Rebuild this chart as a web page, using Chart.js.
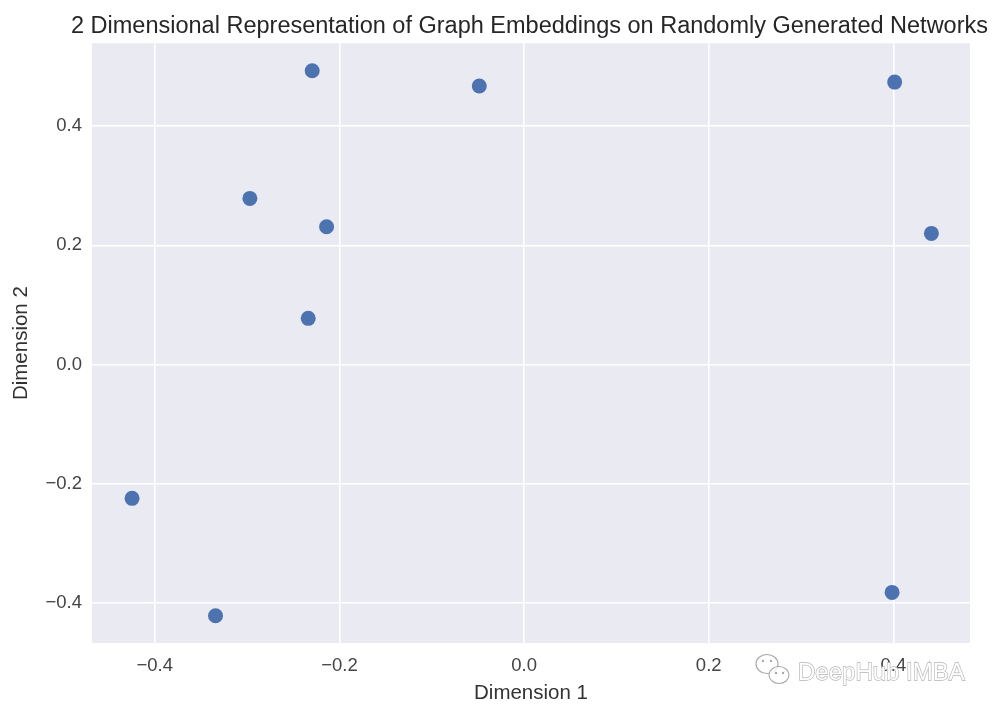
<!DOCTYPE html>
<html>
<head>
<meta charset="utf-8">
<script src="https://cdn.jsdelivr.net/npm/chart.js@4.4.0/dist/chart.umd.min.js"></script>
<style>
  html, body { margin: 0; padding: 0; background: #ffffff; }
  #wrap { width: 1000px; height: 718px; }
</style>
</head>
<body>
<div id="wrap"><canvas id="c" width="1000" height="718"></canvas></div>
<script>
const dim1 = [-0.2295, -0.0485, 0.4014, -0.2970, -0.2139, 0.4412, -0.2338, -0.4246, -0.3342, 0.3986];
const dim2 = [0.4927, 0.4671, 0.4738, 0.2787, 0.2311, 0.2200, 0.0775, -0.2244, -0.4213, -0.3821];
const xTicks = [-0.4, -0.2, 0.0, 0.2, 0.4];
const yTicks = [-0.4, -0.2, 0.0, 0.2, 0.4];
const titleText = '2 Dimensional Representation of Graph Embeddings on Randomly Generated Networks';
const xTitle = 'Dimension 1';
const yTitle = 'Dimension 2';
const watermark = 'DeepHub IMBA';

const points = dim1.map((x, i) => ({ x: x, y: dim2[i] }));
const fmt = v => (v < 0 ? '\u2212' : '') + Math.abs(v).toFixed(1);
const FONT = '"Liberation Sans", Arial, sans-serif';

const bgPlugin = {
  id: 'bg',
  beforeDraw(chart) {
    const a = chart.chartArea, ctx = chart.ctx;
    ctx.save();
    ctx.fillStyle = '#EAEAF2';
    ctx.fillRect(a.left, a.top, a.right - a.left, a.bottom - a.top);
    ctx.restore();
  }
};

const wmPlugin = {
  id: 'wm',
  afterDraw(chart) {
    const ctx = chart.ctx;
    ctx.save();
    ctx.strokeStyle = '#a8a8a8';
    ctx.fillStyle = 'rgba(255,255,255,0.85)';
    ctx.lineWidth = 1.1;
    ctx.beginPath(); ctx.ellipse(767, 664, 11, 9.5, 0, 0, Math.PI * 2); ctx.fill(); ctx.stroke();
    ctx.beginPath(); ctx.ellipse(779, 675, 10, 8.5, 0, 0, Math.PI * 2); ctx.fill(); ctx.stroke();
    ctx.fillStyle = '#a8a8a8';
    [[763,661],[771,661],[776,673],[783,673]].forEach(p => { ctx.beginPath(); ctx.arc(p[0], p[1], 1.2, 0, Math.PI*2); ctx.fill(); });
    ctx.font = '24px ' + FONT;
    ctx.textBaseline = 'middle';
    ctx.textAlign = 'left';
    ctx.lineWidth = 1.3;
    ctx.strokeStyle = '#b4b4b4';
    ctx.strokeText(watermark, 798, 673);
    ctx.fillStyle = '#ffffff';
    ctx.fillText(watermark, 798, 673);
    ctx.restore();
  }
};

new Chart(document.getElementById('c'), {
  type: 'scatter',
  data: {
    datasets: [{
      data: points,
      backgroundColor: '#4C72B0',
      borderColor: '#4C72B0',
      borderWidth: 0,
      pointRadius: 7.5,
      pointHoverRadius: 7.5
    }]
  },
  options: {
    responsive: false,
    animation: false,
    devicePixelRatio: 1,
    layout: { padding: { left: 0, right: 12, top: 0, bottom: 0 } },
    plugins: {
      legend: { display: false },
      tooltip: { enabled: false },
      title: {
        display: true,
        text: titleText,
        fullSize: true,
        align: 'end',
        color: '#262626',
        font: { family: FONT, size: 23.5, weight: 'normal', lineHeight: 1.2 },
        padding: { top: 12, bottom: 3 }
      }
    },
    scales: {
      x: {
        type: 'linear',
        min: -0.468,
        max: 0.483,
        afterFit(s) { s.height = 75; },
        afterBuildTicks(s) { s.ticks = xTicks.map(v => ({ value: v })); },
        border: { display: false },
        grid: { color: '#ffffff', lineWidth: 1.6, drawTicks: false },
        ticks: {
          padding: 12,
          color: '#444444',
          font: { family: FONT, size: 18.5 },
          callback: v => fmt(v)
        },
        title: {
          display: true,
          text: xTitle,
          color: '#333333',
          font: { family: FONT, size: 20.5 },
          padding: { top: 0, bottom: 12 }
        }
      },
      y: {
        type: 'linear',
        min: -0.467,
        max: 0.539,
        afterFit(s) { s.width = 92; },
        afterBuildTicks(s) { s.ticks = yTicks.map(v => ({ value: v })); },
        border: { display: false },
        grid: { color: '#ffffff', lineWidth: 1.6, drawTicks: false },
        ticks: {
          padding: 10,
          color: '#444444',
          font: { family: FONT, size: 18.5 },
          callback: v => fmt(v)
        },
        title: {
          display: true,
          text: yTitle,
          color: '#333333',
          font: { family: FONT, size: 20.5 },
          padding: { top: 9, bottom: 0 }
        }
      },
      yPad: {
        type: 'linear',
        position: 'right',
        display: true,
        afterFit(s) { s.width = 18; },
        border: { display: false },
        grid: { display: false, drawTicks: false },
        ticks: { display: false },
        title: { display: false }
      }
    }
  },
  plugins: [bgPlugin, wmPlugin]
});
</script>
</body>
</html>
